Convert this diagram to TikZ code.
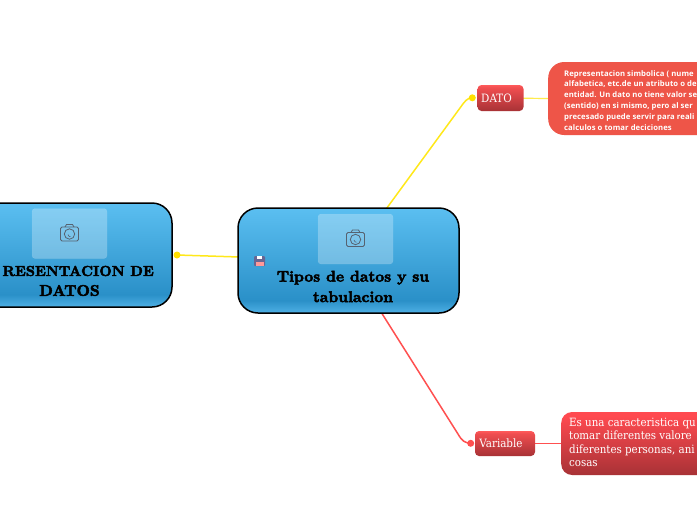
\documentclass[tikz,border=0pt]{standalone}
\usepackage{fontspec}
\setmainfont{DejaVu Serif Condensed}
\setsansfont{Open Sans}
\newfontfamily\fatfont[Extension=.otf,FakeBold=3]{lmroman10-bold}
\newfontfamily\bodyserif{DejaVu Serif Condensed}
\newfontfamily\notesans[LetterSpace=1]{Open Sans}
\usetikzlibrary{backgrounds,calc}
\definecolor{lnyellow}{HTML}{FFE81A}
\definecolor{lnyellowb}{HTML}{FFEB4D}
\definecolor{lnred}{HTML}{FF5050}
\definecolor{dotyellow}{HTML}{FFE000}
\definecolor{boxred}{HTML}{EE5548}
\definecolor{campen}{HTML}{566270}
\definecolor{blA}{HTML}{5BBFF1}
\definecolor{blB}{HTML}{2A90C8}
\definecolor{blC}{HTML}{4FB0E5}
\definecolor{rdA}{HTML}{A83236}
\definecolor{rdB}{HTML}{F04E50}
\definecolor{rdC}{HTML}{FF5A5A}
\definecolor{rdD}{HTML}{FF4A50}
\pgfdeclareverticalshading{bluebox}{100bp}{color(0bp)=(blC);color(25bp)=(blC);color(31bp)=(blB);color(75bp)=(blA);color(100bp)=(blA)}
\pgfdeclareverticalshading{redtag}{100bp}{color(0bp)=(rdA);color(25bp)=(rdA);color(70bp)=(rdB);color(75bp)=(rdC);color(100bp)=(rdC)}
\pgfdeclareverticalshading{redbox}{100bp}{color(0bp)=(rdA);color(25bp)=(rdA);color(72bp)=(rdD);color(100bp)=(rdD)}
\tikzset{
  mainbox/.style={shade,shading=bluebox,draw=black,line width=1.5pt,rounded corners=20pt,inner sep=0pt},
  titletext/.style={font=\fatfont\fontsize{15.4}{20.5}\selectfont,text=black,align=center,inner sep=0pt},
  photo/.style={fill=white,fill opacity=.27,draw=white,draw opacity=.12,rounded corners=3pt,inner sep=0pt,minimum width=75pt,minimum height=50pt},
  tagbox/.style={shade,shading=redtag,rounded corners=4pt,inner sep=0pt},
  tagtext/.style={font=\fontsize{11.5}{14}\selectfont,text=white,inner sep=0pt},
  linkdot/.style={circle,fill=#1,inner sep=0pt,minimum size=7pt},
  noteA/.style={font=\notesans\bfseries\fontsize{7.7}{10.9}\selectfont,text=white,align=left,inner sep=0pt},
  noteB/.style={font=\bodyserif\fontsize{11.4}{13.4}\selectfont,text=white,align=left,inner sep=0pt},
  cameraicon/.pic={
    \draw[campen,line width=.8pt,rounded corners=1.5pt,line join=round]
      (-9,7.5) rectangle (9,-6.5);
    \draw[campen,line width=.8pt,line join=round] (-4.5,-6.5) -- (-3,-9) -- (3,-9) -- (4.5,-6.5);
    \draw[campen,line width=.8pt] (0,.5) circle (5.2pt);
    \draw[campen,line width=.6pt] (-1.5,1) arc (180:280:2.2pt);
  },
  diskicon/.pic={
    \fill[fill=black!70!blue!60!white,rounded corners=1pt] (-5.5,-5) rectangle (5.5,5);
    \fill[fill=pink!80!red] (-4,0.5) rectangle (4,5);
    \fill[fill=white] (-2.5,-5) rectangle (2.5,-2);
  }
}
\begin{document}
\begin{tikzpicture}[x=1pt,y=-1pt]
\useasboundingbox (0,0) rectangle (697,520);
\clip (0,0) rectangle (697,520);
% boxes
\node[mainbox,minimum width=221pt,minimum height=105pt] (main) at (348.5,260.5) {};
\node[mainbox,minimum width=222pt,minimum height=104pt] (left) at (61,255) {};
\node[photo] (mainphoto) at (355.5,239) {};
\node[photo] (leftphoto) at (69.5,233.5) {};
\pic at (mainphoto) {cameraicon};
\pic at (leftphoto) {cameraicon};
\pic at (259.5,261) {diskicon};
\node[titletext] (maintitle) at (353,286.5) {Tipos de datos y su\\tabulacion};
\node[titletext,font=\fatfont\fontsize{14.4}{20.5}\selectfont,anchor=east] (lefttitleA) at (154,271) {RESENTACION DE};
\node[titletext] (lefttitleB) at (69.5,290.5) {DATOS};
% tags
\node[tagbox,minimum width=46pt,minimum height=26pt] (dato) at (500.5,98) {};
\node[tagtext] (datotext) at (496.5,98) {DATO};
\node[tagbox,minimum width=60pt,minimum height=25pt] (variable) at (505,443.5) {};
\node[tagtext] (variabletext) at (501,443) {Variable};
% notes
\node[fill=boxred,rounded corners=16pt,minimum width=180pt,minimum height=73pt,inner sep=0pt,anchor=west] (noteone) at (548,98.5) {};
\node[shade,shading=redbox,rounded corners=11pt,minimum width=170pt,minimum height=63pt,inner sep=0pt,anchor=west] (notetwo) at (561,443.5) {};
\node[noteA,anchor=north west] (noteonetext) at (564,70) {Representacion simbolica ( nume\\alfabetica, etc.de un atributo o de\\entidad. Un dato no tiene valor se\\(sentido) en si mismo, pero al ser\\precesado puede servir para reali\\calculos o tomar deciciones};
\node[noteB,anchor=north west] (notetwotext) at (569,418) {Es una caracteristica qu\\tomar diferentes valore\\diferentes personas, ani\\cosas};
% dots
\node[linkdot=dotyellow] (dotdato) at (472.3,97.8) {};
\node[linkdot=dotyellow] (dotleft) at (177,255) {};
\node[linkdot=lnred] (dotvar) at (470.7,443.3) {};
\coordinate (benddato) at (460,108);
\coordinate (bendvar) at (458,434);
\begin{scope}[on background layer]
\fill[white] (0,0) rectangle (697,520);
\draw[lnyellow,line width=1.5pt] (main.center) -- (benddato) .. controls (465,101) and (467,98) .. (dotdato.center);
\draw[lnyellow,line width=1.5pt] (main.center) -- (dotleft.center);
\draw[lnred,line width=1.5pt] (main.center) -- (bendvar) .. controls (462,441) and (465,443) .. (dotvar.center);
\draw[lnyellowb,line width=1.2pt] (dato.center) -- (noteone.west);
\draw[lnred,line width=1.5pt] (variable.center) -- (notetwo.west);
\end{scope}
\end{tikzpicture}
\end{document}
